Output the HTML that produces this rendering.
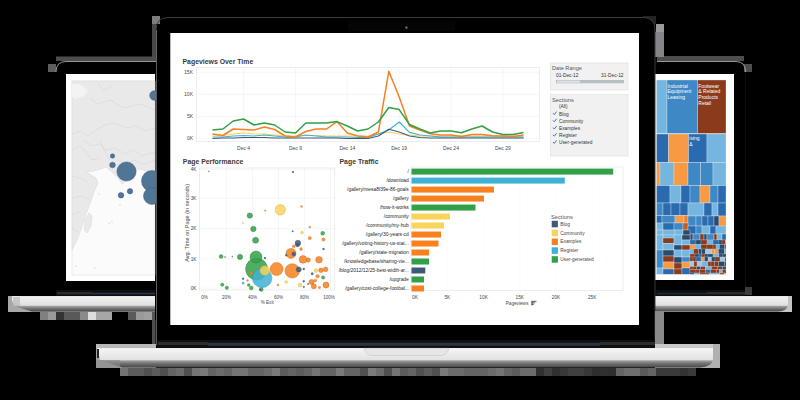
<!DOCTYPE html>
<html><head><meta charset="utf-8"><style>
html,body{margin:0;padding:0;background:#000;width:800px;height:400px;overflow:hidden}
svg{display:block;font-family:"Liberation Sans",sans-serif}
</style></head><body>
<svg width="800" height="400" viewBox="0 0 800 400">
<rect x="0" y="0" width="800" height="400" fill="#000"/>
<rect x="56" y="56.5" width="100" height="4.5" fill="#4d4d4d" />
<rect x="48" y="64" width="8" height="8" fill="#5e5e5e" />
<rect x="152" y="24" width="4" height="33" fill="#474747" />
<path d="M56,72 Q56,61.5 66,61.5 L156,61.5" fill="none" stroke="#bdbdbd" stroke-width="0.8"/>
<rect x="66" y="74" width="89" height="207" fill="#ffffff" />
<rect x="72" y="81" width="83" height="194" fill="#fbfbfb" stroke="#d8d8d8" stroke-width="0.5"/>
<path d="M72,81 L155,81 L155,171 L150,175 L144,170 L138,169 L132,175 L126,181 L122,184 L118,178 L112,172 L106,167 L101,169 L94,171 L86,172 L96,178 L98,183 L94,192 L90,204 L86,214 L82,226 L78,238 L72,250 Z" fill="#e9e9e9" stroke="#d0d0d0" stroke-width="0.4"/>
<path d="M89,213 L92,216 L91,226 L87,233 L84,230 L85,220 Z" fill="#e9e9e9" stroke="#d0d0d0" stroke-width="0.4"/>
<path d="M72,84 L80,84 L88,90 L84,96 L76,99 L72,97 Z" fill="#f3f3f3"/>
<path d="M72,134 L80,131 L88,136 L96,130 L105,125 L115,123 L126,128 L136,126 L146,131 L155,128" fill="none" stroke="#d0d0d0" stroke-width="0.45"/>
<path d="M84,140 L92,146 L100,144 L106,150 L116,148 L124,154 L134,150 L142,156 L155,152" fill="none" stroke="#d0d0d0" stroke-width="0.45"/>
<path d="M72,150 L80,146 L86,152 L92,160 L100,158" fill="none" stroke="#d0d0d0" stroke-width="0.45"/>
<path d="M100,140 L104,150 L110,160" fill="none" stroke="#d0d0d0" stroke-width="0.45"/>
<path d="M72,176 L80,178 L88,182" fill="none" stroke="#d0d0d0" stroke-width="0.45"/>
<path d="M72,198 L82,196 L90,200" fill="none" stroke="#d0d0d0" stroke-width="0.45"/>
<path d="M72,214 L80,212" fill="none" stroke="#d0d0d0" stroke-width="0.45"/>
<path d="M72,228 L78,232" fill="none" stroke="#d0d0d0" stroke-width="0.45"/>
<path d="M90,98 L98,104 L110,100 L124,108 L140,104 L155,110" fill="none" stroke="#d0d0d0" stroke-width="0.45"/>
<path d="M118,160 L126,164 L134,160 L144,164 L155,160" fill="none" stroke="#d0d0d0" stroke-width="0.45"/>
<path d="M98,84 L104,90 L112,86" fill="none" stroke="#d0d0d0" stroke-width="0.45"/>
<circle cx="154.5" cy="95.5" r="4.8" fill="#4f7597" stroke="#3d5f7e" stroke-width="0.5"/>
<circle cx="112.5" cy="156" r="2.2" fill="#4f7597" stroke="#3d5f7e" stroke-width="0.5"/>
<circle cx="112.5" cy="165" r="2.8" fill="#4f7597" stroke="#3d5f7e" stroke-width="0.5"/>
<circle cx="126.5" cy="171.5" r="9.6" fill="#4f7597" stroke="#3d5f7e" stroke-width="0.5"/>
<circle cx="121" cy="195.3" r="2.8" fill="#4f7597" stroke="#3d5f7e" stroke-width="0.5"/>
<circle cx="130" cy="191.2" r="2.7" fill="#4f7597" stroke="#3d5f7e" stroke-width="0.5"/>
<circle cx="152" cy="181" r="10.5" fill="#4f7597" stroke="#3d5f7e" stroke-width="0.5"/>
<circle cx="152" cy="196" r="8.5" fill="#4f7597" stroke="#3d5f7e" stroke-width="0.5"/>
<circle cx="99" cy="194" r="0.6" fill="#bbb"/>
<circle cx="109" cy="223" r="0.6" fill="#bbb"/>
<circle cx="112" cy="222" r="0.6" fill="#bbb"/>
<circle cx="95" cy="268" r="0.6" fill="#bbb"/>
<circle cx="76" cy="266" r="0.6" fill="#bbb"/>
<circle cx="120" cy="205" r="0.6" fill="#bbb"/>
<rect x="56" y="290" width="99" height="6" fill="#0e0f11" />
<rect x="57" y="292" width="35" height="2.5" fill="#3a3a3a" opacity="0.7"/>
<rect x="92" y="292.8" width="63" height="1.6" fill="#2a3546" />
<linearGradient id="lb" x1="0" y1="0" x2="0" y2="1"><stop offset="0" stop-color="#e4e4e4"/><stop offset="0.1" stop-color="#f0f0f0"/><stop offset="0.6" stop-color="#e0e0e0"/><stop offset="0.66" stop-color="#a0a0a0"/><stop offset="0.82" stop-color="#727272"/><stop offset="1" stop-color="#444"/></linearGradient>
<rect x="8" y="296" width="147" height="16" fill="#a8a8a8" />
<path d="M12,296 L155,296 L155,311.5 L32,311.5 L14,306 L12,300 Z" fill="url(#lb)"/>
<rect x="13" y="297" width="7" height="9" fill="#b0b0b0" opacity="0.6"/>
<rect x="40" y="312" width="8" height="8" fill="#808080" />
<rect x="48" y="312" width="8" height="8" fill="#9a9a9a" />
<rect x="56" y="312" width="8" height="8" fill="#333333" />
<rect x="64" y="312" width="16" height="8" fill="#595959" />
<rect x="80" y="312" width="8" height="8" fill="#8a8a8a" />
<rect x="88" y="312" width="8" height="8" fill="#dddddd" />
<rect x="96" y="312" width="16" height="8" fill="#a6a6a6" />
<rect x="128" y="312" width="8" height="8" fill="#5a5a5a" />
<rect x="136" y="312" width="8" height="8" fill="#9a9a9a" />
<rect x="144" y="312" width="8" height="8" fill="#a0a0a0" />
<rect x="152" y="312" width="3" height="8" fill="#555" />
<rect x="152" y="320" width="3.5" height="25" fill="#4e4e4e" />
<rect x="657" y="56" width="87" height="5" fill="#4d4d4d" />
<rect x="744" y="64" width="8" height="8" fill="#4e4e4e" />
<rect x="655" y="32" width="9" height="25" fill="#858589" />
<rect x="656" y="24" width="8" height="8" fill="#9a9a9a" />
<path d="M657,61.5 L736,61.5 Q745.5,61.5 745.5,72" fill="none" stroke="#bdbdbd" stroke-width="0.8"/>
<path d="M745.5,72 L745.5,288" fill="none" stroke="#141414" stroke-width="0.8"/>
<rect x="655" y="74" width="79" height="206" fill="#ffffff" />
<rect x="656.5" y="80" width="10.5" height="53.5" fill="#74b6e0" stroke="#dfe9f2" stroke-width="0.35"/>
<rect x="667" y="80" width="30.5" height="53.5" fill="#3d88c5" stroke="#dfe9f2" stroke-width="0.35"/>
<rect x="697.5" y="80" width="28.5" height="53.5" fill="#8c3a1c" stroke="#dfe9f2" stroke-width="0.35"/>
<rect x="656.5" y="134" width="12" height="28.5" fill="#2a6aae" stroke="#dfe9f2" stroke-width="0.35"/>
<rect x="668.5" y="134" width="20" height="28.5" fill="#f79a43" stroke="#dfe9f2" stroke-width="0.35"/>
<rect x="688.5" y="134" width="18.5" height="28.5" fill="#2a6aae" stroke="#dfe9f2" stroke-width="0.35"/>
<rect x="707" y="134" width="19" height="28.5" fill="#74b6e0" stroke="#dfe9f2" stroke-width="0.35"/>
<rect x="656.5" y="162.5" width="3.5" height="23" fill="#f79a43" stroke="#dfe9f2" stroke-width="0.35"/>
<rect x="660" y="162.5" width="14" height="23" fill="#74b6e0" stroke="#dfe9f2" stroke-width="0.35"/>
<rect x="674" y="162.5" width="14" height="23" fill="#f79a43" stroke="#dfe9f2" stroke-width="0.35"/>
<rect x="688" y="162.5" width="12.5" height="23" fill="#3d88c5" stroke="#dfe9f2" stroke-width="0.35"/>
<rect x="700.5" y="162.5" width="12.5" height="23" fill="#3d88c5" stroke="#dfe9f2" stroke-width="0.35"/>
<rect x="713" y="162.5" width="13" height="23" fill="#74b6e0" stroke="#dfe9f2" stroke-width="0.35"/>
<rect x="656.5" y="185.5" width="13.5" height="17.5" fill="#2a6aae" stroke="#dfe9f2" stroke-width="0.35"/>
<rect x="670" y="185.5" width="11" height="17.5" fill="#74b6e0" stroke="#dfe9f2" stroke-width="0.35"/>
<rect x="681" y="185.5" width="9" height="17.5" fill="#2a6aae" stroke="#dfe9f2" stroke-width="0.35"/>
<rect x="690" y="185.5" width="10" height="17.5" fill="#3d88c5" stroke="#dfe9f2" stroke-width="0.35"/>
<rect x="700" y="185.5" width="10" height="17.5" fill="#f79a43" stroke="#dfe9f2" stroke-width="0.35"/>
<rect x="710" y="185.5" width="8" height="17.5" fill="#3d88c5" stroke="#dfe9f2" stroke-width="0.35"/>
<rect x="718" y="185.5" width="8" height="17.5" fill="#2a6aae" stroke="#dfe9f2" stroke-width="0.35"/>
<rect x="656.5" y="203" width="6.5" height="12.5" fill="#3d88c5" stroke="#dfe9f2" stroke-width="0.35"/>
<rect x="663" y="203" width="8" height="12.5" fill="#2a6aae" stroke="#dfe9f2" stroke-width="0.35"/>
<rect x="671" y="203" width="9" height="12.5" fill="#2a6aae" stroke="#dfe9f2" stroke-width="0.35"/>
<rect x="680" y="203" width="8" height="12.5" fill="#2a6aae" stroke="#dfe9f2" stroke-width="0.35"/>
<rect x="688" y="203" width="16" height="13" fill="#74b6e0" stroke="#dfe9f2" stroke-width="0.35"/>
<rect x="704" y="203" width="8" height="13" fill="#2a6aae" stroke="#dfe9f2" stroke-width="0.35"/>
<rect x="712" y="203" width="6" height="13" fill="#74b6e0" stroke="#dfe9f2" stroke-width="0.35"/>
<rect x="718" y="203" width="8" height="13" fill="#2a6aae" stroke="#dfe9f2" stroke-width="0.35"/>
<rect x="656.5" y="215.5" width="5.5" height="7.5" fill="#2a6aae" stroke="#dfe9f2" stroke-width="0.35"/>
<rect x="662" y="215.5" width="13" height="7.5" fill="#3d88c5" stroke="#dfe9f2" stroke-width="0.35"/>
<rect x="675" y="215.5" width="9" height="7.5" fill="#f79a43" stroke="#dfe9f2" stroke-width="0.35"/>
<rect x="684" y="215.5" width="4" height="7.5" fill="#f57f1f" stroke="#dfe9f2" stroke-width="0.35"/>
<rect x="688" y="216" width="8" height="10" fill="#3d88c5" stroke="#dfe9f2" stroke-width="0.35"/>
<rect x="696" y="216" width="6" height="10" fill="#3d88c5" stroke="#dfe9f2" stroke-width="0.35"/>
<rect x="702" y="216" width="6" height="10" fill="#2a6aae" stroke="#dfe9f2" stroke-width="0.35"/>
<rect x="708" y="216" width="6" height="10" fill="#2a6aae" stroke="#dfe9f2" stroke-width="0.35"/>
<rect x="714" y="216" width="5" height="10" fill="#2c4a6b" stroke="#dfe9f2" stroke-width="0.35"/>
<rect x="719" y="216" width="7" height="10" fill="#f79a43" stroke="#dfe9f2" stroke-width="0.35"/>
<rect x="656.5" y="223" width="6.5" height="7" fill="#74b6e0" stroke="#dfe9f2" stroke-width="0.35"/>
<rect x="663" y="223" width="11" height="7" fill="#2a6aae" stroke="#dfe9f2" stroke-width="0.35"/>
<rect x="674" y="223" width="9" height="7" fill="#3d88c5" stroke="#dfe9f2" stroke-width="0.35"/>
<rect x="683" y="223" width="5" height="7" fill="#c85a1a" stroke="#dfe9f2" stroke-width="0.35"/>
<rect x="688" y="226" width="8" height="8" fill="#2a6aae" stroke="#dfe9f2" stroke-width="0.35"/>
<rect x="696" y="226" width="6" height="8" fill="#3d88c5" stroke="#dfe9f2" stroke-width="0.35"/>
<rect x="702" y="226" width="8" height="8" fill="#74b6e0" stroke="#dfe9f2" stroke-width="0.35"/>
<rect x="710" y="226" width="6" height="8" fill="#2a6aae" stroke="#dfe9f2" stroke-width="0.35"/>
<rect x="716" y="226" width="10" height="8" fill="#74b6e0" stroke="#dfe9f2" stroke-width="0.35"/>
<rect x="656.5" y="230" width="6.5" height="5" fill="#74b6e0" stroke="#dfe9f2" stroke-width="0.35"/>
<rect x="663" y="230" width="12" height="5" fill="#74b6e0" stroke="#dfe9f2" stroke-width="0.35"/>
<rect x="675" y="230" width="8" height="5" fill="#74b6e0" stroke="#dfe9f2" stroke-width="0.35"/>
<rect x="683" y="230" width="7" height="5" fill="#2c4a6b" stroke="#dfe9f2" stroke-width="0.35"/>
<rect x="690" y="234" width="3" height="6" fill="#2c4a6b" stroke="#dfe9f2" stroke-width="0.35"/>
<rect x="693" y="234" width="7" height="6" fill="#3d88c5" stroke="#dfe9f2" stroke-width="0.35"/>
<rect x="700" y="234" width="4" height="6" fill="#8c3a1c" stroke="#dfe9f2" stroke-width="0.35"/>
<rect x="704" y="234" width="3" height="6" fill="#2c4a6b" stroke="#dfe9f2" stroke-width="0.35"/>
<rect x="707" y="234" width="7" height="6" fill="#3d88c5" stroke="#dfe9f2" stroke-width="0.35"/>
<rect x="714" y="234" width="3" height="6" fill="#8c3a1c" stroke="#dfe9f2" stroke-width="0.35"/>
<rect x="717" y="234" width="5" height="6" fill="#74b6e0" stroke="#dfe9f2" stroke-width="0.35"/>
<rect x="722" y="234" width="4" height="6" fill="#2a6aae" stroke="#dfe9f2" stroke-width="0.35"/>
<rect x="656.5" y="235" width="6.5" height="15" fill="#74b6e0" stroke="#dfe9f2" stroke-width="0.35"/>
<rect x="656.5" y="250" width="6.5" height="18" fill="#3d88c5" stroke="#dfe9f2" stroke-width="0.35"/>
<rect x="656.5" y="268" width="6.5" height="6.3" fill="#74b6e0" stroke="#dfe9f2" stroke-width="0.35"/>
<rect x="663" y="235" width="11" height="3" fill="#74b6e0" stroke="#dfe9f2" stroke-width="0.35"/>
<rect x="663" y="238" width="11" height="5.4" fill="#8c3a1c" stroke="#dfe9f2" stroke-width="0.35"/>
<rect x="663" y="243.4" width="11" height="6.6" fill="#74b6e0" stroke="#dfe9f2" stroke-width="0.35"/>
<rect x="663" y="250" width="11" height="6" fill="#2c4a6b" stroke="#dfe9f2" stroke-width="0.35"/>
<rect x="663" y="256" width="11" height="6" fill="#8c3a1c" stroke="#dfe9f2" stroke-width="0.35"/>
<rect x="663" y="262" width="11" height="7" fill="#f79a43" stroke="#dfe9f2" stroke-width="0.35"/>
<rect x="663" y="269" width="11" height="5.3" fill="#2a6aae" stroke="#dfe9f2" stroke-width="0.35"/>
<rect x="674" y="235" width="8" height="10" fill="#74b6e0" stroke="#dfe9f2" stroke-width="0.35"/>
<rect x="674" y="245" width="8" height="5" fill="#2c4a6b" stroke="#dfe9f2" stroke-width="0.35"/>
<rect x="674" y="250" width="8" height="7" fill="#74b6e0" stroke="#dfe9f2" stroke-width="0.35"/>
<rect x="674" y="257" width="8" height="6" fill="#2c4a6b" stroke="#dfe9f2" stroke-width="0.35"/>
<rect x="674" y="263" width="8" height="6" fill="#8c3a1c" stroke="#dfe9f2" stroke-width="0.35"/>
<rect x="674" y="269" width="8" height="5.3" fill="#8c3a1c" stroke="#dfe9f2" stroke-width="0.35"/>
<rect x="682" y="235" width="8" height="5" fill="#2c4a6b" stroke="#dfe9f2" stroke-width="0.35"/>
<rect x="682" y="240" width="8" height="5" fill="#74b6e0" stroke="#dfe9f2" stroke-width="0.35"/>
<rect x="682" y="245" width="8" height="5" fill="#8c3a1c" stroke="#dfe9f2" stroke-width="0.35"/>
<rect x="682" y="250" width="8" height="7" fill="#74b6e0" stroke="#dfe9f2" stroke-width="0.35"/>
<rect x="682" y="257" width="8" height="5" fill="#3d88c5" stroke="#dfe9f2" stroke-width="0.35"/>
<rect x="682" y="262" width="8" height="6" fill="#f79a43" stroke="#dfe9f2" stroke-width="0.35"/>
<rect x="682" y="268" width="8" height="6.3" fill="#2a6aae" stroke="#dfe9f2" stroke-width="0.35"/>
<rect x="690.00" y="240.00" width="6.00" height="4.50" fill="#2a6aae" stroke="#c9d6e0" stroke-width="0.2"/>
<rect x="696.00" y="240.00" width="5.00" height="4.50" fill="#2c4a6b" stroke="#c9d6e0" stroke-width="0.2"/>
<rect x="701.00" y="240.00" width="6.00" height="4.50" fill="#8c3a1c" stroke="#c9d6e0" stroke-width="0.2"/>
<rect x="707.00" y="240.00" width="6.00" height="4.50" fill="#74b6e0" stroke="#c9d6e0" stroke-width="0.2"/>
<rect x="713.00" y="240.00" width="6.00" height="4.50" fill="#2a6aae" stroke="#c9d6e0" stroke-width="0.2"/>
<rect x="719.00" y="240.00" width="3.00" height="4.50" fill="#2c4a6b" stroke="#c9d6e0" stroke-width="0.2"/>
<rect x="722.00" y="240.00" width="3.50" height="4.50" fill="#8c3a1c" stroke="#c9d6e0" stroke-width="0.2"/>
<rect x="725.50" y="240.00" width="0.50" height="4.50" fill="#74b6e0" stroke="#c9d6e0" stroke-width="0.2"/>
<rect x="690.00" y="244.50" width="5.00" height="4.50" fill="#f79a43" stroke="#c9d6e0" stroke-width="0.2"/>
<rect x="695.00" y="244.50" width="6.00" height="4.50" fill="#74b6e0" stroke="#c9d6e0" stroke-width="0.2"/>
<rect x="701.00" y="244.50" width="6.00" height="4.50" fill="#8c3a1c" stroke="#c9d6e0" stroke-width="0.2"/>
<rect x="707.00" y="244.50" width="6.00" height="4.50" fill="#8c3a1c" stroke="#c9d6e0" stroke-width="0.2"/>
<rect x="713.00" y="244.50" width="3.00" height="4.50" fill="#8c3a1c" stroke="#c9d6e0" stroke-width="0.2"/>
<rect x="716.00" y="244.50" width="3.50" height="4.50" fill="#74b6e0" stroke="#c9d6e0" stroke-width="0.2"/>
<rect x="719.50" y="244.50" width="5.00" height="4.50" fill="#2c4a6b" stroke="#c9d6e0" stroke-width="0.2"/>
<rect x="724.50" y="244.50" width="1.50" height="4.50" fill="#2a6aae" stroke="#c9d6e0" stroke-width="0.2"/>
<rect x="690.00" y="249.00" width="3.50" height="5.00" fill="#74b6e0" stroke="#c9d6e0" stroke-width="0.2"/>
<rect x="693.50" y="249.00" width="5.00" height="5.00" fill="#8c3a1c" stroke="#c9d6e0" stroke-width="0.2"/>
<rect x="698.50" y="249.00" width="3.00" height="5.00" fill="#2c4a6b" stroke="#c9d6e0" stroke-width="0.2"/>
<rect x="701.50" y="249.00" width="4.00" height="5.00" fill="#2c4a6b" stroke="#c9d6e0" stroke-width="0.2"/>
<rect x="705.50" y="249.00" width="6.00" height="5.00" fill="#a9c7dc" stroke="#c9d6e0" stroke-width="0.2"/>
<rect x="711.50" y="249.00" width="3.00" height="5.00" fill="#f79a43" stroke="#c9d6e0" stroke-width="0.2"/>
<rect x="714.50" y="249.00" width="4.00" height="5.00" fill="#f79a43" stroke="#c9d6e0" stroke-width="0.2"/>
<rect x="718.50" y="249.00" width="6.00" height="5.00" fill="#2c4a6b" stroke="#c9d6e0" stroke-width="0.2"/>
<rect x="724.50" y="249.00" width="1.50" height="5.00" fill="#74b6e0" stroke="#c9d6e0" stroke-width="0.2"/>
<rect x="690.00" y="254.00" width="5.00" height="3.00" fill="#8c3a1c" stroke="#c9d6e0" stroke-width="0.2"/>
<rect x="695.00" y="254.00" width="4.00" height="3.00" fill="#2c4a6b" stroke="#c9d6e0" stroke-width="0.2"/>
<rect x="699.00" y="254.00" width="3.00" height="3.00" fill="#2a6aae" stroke="#c9d6e0" stroke-width="0.2"/>
<rect x="702.00" y="254.00" width="3.00" height="3.00" fill="#8c3a1c" stroke="#c9d6e0" stroke-width="0.2"/>
<rect x="705.00" y="254.00" width="3.00" height="3.00" fill="#2c4a6b" stroke="#c9d6e0" stroke-width="0.2"/>
<rect x="708.00" y="254.00" width="5.00" height="3.00" fill="#2c4a6b" stroke="#c9d6e0" stroke-width="0.2"/>
<rect x="713.00" y="254.00" width="6.00" height="3.00" fill="#74b6e0" stroke="#c9d6e0" stroke-width="0.2"/>
<rect x="719.00" y="254.00" width="4.00" height="3.00" fill="#2c4a6b" stroke="#c9d6e0" stroke-width="0.2"/>
<rect x="723.00" y="254.00" width="3.00" height="3.00" fill="#2c4a6b" stroke="#c9d6e0" stroke-width="0.2"/>
<rect x="690.00" y="257.00" width="3.00" height="4.50" fill="#8c3a1c" stroke="#c9d6e0" stroke-width="0.2"/>
<rect x="693.00" y="257.00" width="3.00" height="4.50" fill="#8c3a1c" stroke="#c9d6e0" stroke-width="0.2"/>
<rect x="696.00" y="257.00" width="5.00" height="4.50" fill="#2a6aae" stroke="#c9d6e0" stroke-width="0.2"/>
<rect x="701.00" y="257.00" width="3.50" height="4.50" fill="#f79a43" stroke="#c9d6e0" stroke-width="0.2"/>
<rect x="704.50" y="257.00" width="3.50" height="4.50" fill="#2c4a6b" stroke="#c9d6e0" stroke-width="0.2"/>
<rect x="708.00" y="257.00" width="3.50" height="4.50" fill="#a9c7dc" stroke="#c9d6e0" stroke-width="0.2"/>
<rect x="711.50" y="257.00" width="3.50" height="4.50" fill="#2c4a6b" stroke="#c9d6e0" stroke-width="0.2"/>
<rect x="715.00" y="257.00" width="5.00" height="4.50" fill="#8c3a1c" stroke="#c9d6e0" stroke-width="0.2"/>
<rect x="720.00" y="257.00" width="5.00" height="4.50" fill="#a9c7dc" stroke="#c9d6e0" stroke-width="0.2"/>
<rect x="725.00" y="257.00" width="1.00" height="4.50" fill="#2c4a6b" stroke="#c9d6e0" stroke-width="0.2"/>
<rect x="690.00" y="261.50" width="4.00" height="5.00" fill="#a9c7dc" stroke="#c9d6e0" stroke-width="0.2"/>
<rect x="694.00" y="261.50" width="3.00" height="5.00" fill="#8c3a1c" stroke="#c9d6e0" stroke-width="0.2"/>
<rect x="697.00" y="261.50" width="5.00" height="5.00" fill="#a9c7dc" stroke="#c9d6e0" stroke-width="0.2"/>
<rect x="702.00" y="261.50" width="6.00" height="5.00" fill="#74b6e0" stroke="#c9d6e0" stroke-width="0.2"/>
<rect x="708.00" y="261.50" width="3.00" height="5.00" fill="#8c3a1c" stroke="#c9d6e0" stroke-width="0.2"/>
<rect x="711.00" y="261.50" width="3.50" height="5.00" fill="#8c3a1c" stroke="#c9d6e0" stroke-width="0.2"/>
<rect x="714.50" y="261.50" width="4.00" height="5.00" fill="#8c3a1c" stroke="#c9d6e0" stroke-width="0.2"/>
<rect x="718.50" y="261.50" width="6.00" height="5.00" fill="#2c4a6b" stroke="#c9d6e0" stroke-width="0.2"/>
<rect x="724.50" y="261.50" width="1.50" height="5.00" fill="#2c4a6b" stroke="#c9d6e0" stroke-width="0.2"/>
<rect x="690.00" y="266.50" width="3.00" height="3.00" fill="#8c3a1c" stroke="#c9d6e0" stroke-width="0.2"/>
<rect x="693.00" y="266.50" width="3.50" height="3.00" fill="#8c3a1c" stroke="#c9d6e0" stroke-width="0.2"/>
<rect x="696.50" y="266.50" width="4.00" height="3.00" fill="#2c4a6b" stroke="#c9d6e0" stroke-width="0.2"/>
<rect x="700.50" y="266.50" width="5.00" height="3.00" fill="#8c3a1c" stroke="#c9d6e0" stroke-width="0.2"/>
<rect x="705.50" y="266.50" width="6.00" height="3.00" fill="#74b6e0" stroke="#c9d6e0" stroke-width="0.2"/>
<rect x="711.50" y="266.50" width="6.00" height="3.00" fill="#8c3a1c" stroke="#c9d6e0" stroke-width="0.2"/>
<rect x="717.50" y="266.50" width="5.00" height="3.00" fill="#8c3a1c" stroke="#c9d6e0" stroke-width="0.2"/>
<rect x="722.50" y="266.50" width="3.50" height="3.00" fill="#2c4a6b" stroke="#c9d6e0" stroke-width="0.2"/>
<rect x="690.00" y="269.50" width="6.00" height="3.50" fill="#8c3a1c" stroke="#c9d6e0" stroke-width="0.2"/>
<rect x="696.00" y="269.50" width="3.50" height="3.50" fill="#8c3a1c" stroke="#c9d6e0" stroke-width="0.2"/>
<rect x="699.50" y="269.50" width="6.00" height="3.50" fill="#8c3a1c" stroke="#c9d6e0" stroke-width="0.2"/>
<rect x="705.50" y="269.50" width="5.00" height="3.50" fill="#2a6aae" stroke="#c9d6e0" stroke-width="0.2"/>
<rect x="710.50" y="269.50" width="6.00" height="3.50" fill="#8c3a1c" stroke="#c9d6e0" stroke-width="0.2"/>
<rect x="716.50" y="269.50" width="3.00" height="3.50" fill="#8c3a1c" stroke="#c9d6e0" stroke-width="0.2"/>
<rect x="719.50" y="269.50" width="3.00" height="3.50" fill="#74b6e0" stroke="#c9d6e0" stroke-width="0.2"/>
<rect x="722.50" y="269.50" width="3.50" height="3.50" fill="#8c3a1c" stroke="#c9d6e0" stroke-width="0.2"/>
<rect x="690.00" y="273.00" width="4.00" height="1.30" fill="#2c4a6b" stroke="#c9d6e0" stroke-width="0.2"/>
<rect x="694.00" y="273.00" width="6.00" height="1.30" fill="#74b6e0" stroke="#c9d6e0" stroke-width="0.2"/>
<rect x="700.00" y="273.00" width="6.00" height="1.30" fill="#8c3a1c" stroke="#c9d6e0" stroke-width="0.2"/>
<rect x="706.00" y="273.00" width="3.00" height="1.30" fill="#8c3a1c" stroke="#c9d6e0" stroke-width="0.2"/>
<rect x="709.00" y="273.00" width="5.00" height="1.30" fill="#74b6e0" stroke="#c9d6e0" stroke-width="0.2"/>
<rect x="714.00" y="273.00" width="6.00" height="1.30" fill="#74b6e0" stroke="#c9d6e0" stroke-width="0.2"/>
<rect x="720.00" y="273.00" width="4.00" height="1.30" fill="#8c3a1c" stroke="#c9d6e0" stroke-width="0.2"/>
<rect x="724.00" y="273.00" width="2.00" height="1.30" fill="#f79a43" stroke="#c9d6e0" stroke-width="0.2"/>
<text x="667.5" y="87.6" font-size="5.0" fill="#ffffff" text-anchor="start" font-weight="normal" >Industrial</text>
<text x="667.5" y="93.4" font-size="5.0" fill="#ffffff" text-anchor="start" font-weight="normal" >Equipment</text>
<text x="667.5" y="99.2" font-size="5.0" fill="#ffffff" text-anchor="start" font-weight="normal" >Leasing</text>
<text x="698.3" y="87.6" font-size="5.0" fill="#ffffff" text-anchor="start" font-weight="normal" >Footwear</text>
<text x="698.3" y="93.4" font-size="5.0" fill="#ffffff" text-anchor="start" font-weight="normal" >&amp; Related</text>
<text x="698.3" y="99.2" font-size="5.0" fill="#ffffff" text-anchor="start" font-weight="normal" >Products</text>
<text x="698.3" y="105" font-size="5.0" fill="#ffffff" text-anchor="start" font-weight="normal" >Retail</text>
<text x="689.3" y="139.5" font-size="5.0" fill="#ffffff" text-anchor="start" font-weight="normal" >ising</text>
<text x="689.3" y="145.5" font-size="5.0" fill="#ffffff" text-anchor="start" font-weight="normal" >&amp;</text>
<rect x="656" y="290" width="89" height="6" fill="#0e0f11" />
<rect x="657" y="292.8" width="50" height="1.6" fill="#1f2a38" />
<rect x="707" y="292" width="38" height="2.5" fill="#3a3a3a" opacity="0.7"/>
<rect x="745" y="287" width="7" height="8" fill="#3c3c3c" />
<linearGradient id="rb" x1="0" y1="0" x2="0" y2="1"><stop offset="0" stop-color="#e4e4e4"/><stop offset="0.1" stop-color="#f0f0f0"/><stop offset="0.6" stop-color="#e0e0e0"/><stop offset="0.66" stop-color="#a0a0a0"/><stop offset="0.82" stop-color="#727272"/><stop offset="1" stop-color="#444"/></linearGradient>
<rect x="655" y="296" width="137" height="16" fill="#c4c4c4" />
<path d="M655,296 L788,296 L788,305 Q787,311 778,311.5 L655,311.5 Z" fill="url(#rb)"/>
<rect x="643" y="16" width="13" height="8" fill="#242424" />
<path d="M156,345 L156,30 Q156,17.5 168,17.5 L643,17.5 Q655,17.5 655,30 L655,345 Z" fill="#000"/>
<rect x="152" y="16" width="8" height="8" fill="#7d7d7d" />
<path d="M156,57 L156,30 Q156,17.5 168,17.5 L643,17.5 Q655,17.5 655,30 L655,345" fill="none" stroke="#3c3c3c" stroke-width="1"/>
<path d="M156.5,345 L156.5,30" fill="none" stroke="#9a9a9a" stroke-width="0.6"/>
<rect x="655" y="311" width="9" height="34" fill="#8a8a8a" />
<rect x="348" y="21" width="107" height="10" fill="#050505" />
<circle cx="406.4" cy="27.6" r="1.6" fill="#2a3a46"/><circle cx="406.4" cy="27.6" r="0.8" fill="#6a8a9c"/>
<rect x="170" y="33" width="469" height="292" fill="#ffffff" />
<rect x="170" y="33" width="0.7" height="292" fill="#9a9a9a" />
<text x="182.5" y="64.3" font-size="6.9" fill="#3a3a3a" text-anchor="start" font-weight="bold" >Pageviews Over Time</text>
<rect x="196.5" y="67.5" width="343" height="74" fill="none" stroke="#e2e2e2" stroke-width="0.6"/>
<line x1="196.5" x2="539.5" y1="138.5" y2="138.5" stroke="#ececec" stroke-width="0.5"/>
<text x="193" y="140.2" font-size="5.0" fill="#484848" text-anchor="end" font-weight="normal" >0K</text>
<line x1="196.5" x2="539.5" y1="116.4" y2="116.4" stroke="#ececec" stroke-width="0.5"/>
<text x="193" y="118.10000000000001" font-size="5.0" fill="#484848" text-anchor="end" font-weight="normal" >5K</text>
<line x1="196.5" x2="539.5" y1="94.4" y2="94.4" stroke="#ececec" stroke-width="0.5"/>
<text x="193" y="96.10000000000001" font-size="5.0" fill="#484848" text-anchor="end" font-weight="normal" >10K</text>
<line x1="196.5" x2="539.5" y1="72.3" y2="72.3" stroke="#ececec" stroke-width="0.5"/>
<text x="193" y="74.0" font-size="5.0" fill="#484848" text-anchor="end" font-weight="normal" >15K</text>
<line x1="243.6" x2="243.6" y1="68" y2="141.5" stroke="#ececec" stroke-width="0.5"/>
<text x="243.6" y="149.8" font-size="5.0" fill="#484848" text-anchor="middle" font-weight="normal" >Dec 4</text>
<line x1="295.4" x2="295.4" y1="68" y2="141.5" stroke="#ececec" stroke-width="0.5"/>
<text x="295.45" y="149.8" font-size="5.0" fill="#484848" text-anchor="middle" font-weight="normal" >Dec 9</text>
<line x1="347.3" x2="347.3" y1="68" y2="141.5" stroke="#ececec" stroke-width="0.5"/>
<text x="347.3" y="149.8" font-size="5.0" fill="#484848" text-anchor="middle" font-weight="normal" >Dec 14</text>
<line x1="399.1" x2="399.1" y1="68" y2="141.5" stroke="#ececec" stroke-width="0.5"/>
<text x="399.15" y="149.8" font-size="5.0" fill="#484848" text-anchor="middle" font-weight="normal" >Dec 19</text>
<line x1="451.0" x2="451.0" y1="68" y2="141.5" stroke="#ececec" stroke-width="0.5"/>
<text x="451.0" y="149.8" font-size="5.0" fill="#484848" text-anchor="middle" font-weight="normal" >Dec 24</text>
<line x1="502.9" x2="502.9" y1="68" y2="141.5" stroke="#ececec" stroke-width="0.5"/>
<text x="502.85" y="149.8" font-size="5.0" fill="#484848" text-anchor="middle" font-weight="normal" >Dec 29</text>
<polyline points="212.5,135 222.9,135.5 233.2,134 243.6,133 254.0,134 264.4,134 274.7,135 285.1,136 295.5,136 305.8,135.5 316.2,135.5 326.6,136 336.9,136 347.3,136 357.7,136 368.0,136 378.4,134 388.8,132 399.2,134 409.5,135 419.9,136 430.3,136 440.6,136 451.0,136 461.4,136 471.8,136 482.1,136 492.5,136 502.9,136 513.2,136 523.6,136" fill="none" stroke="#f9d35a" stroke-width="1.1" stroke-linejoin="round"/>
<polyline points="212.5,137 222.9,137 233.2,136 243.6,135.5 254.0,136 264.4,135 274.7,136 285.1,137 295.5,137 305.8,135 316.2,136 326.6,137 336.9,137 347.3,137 357.7,137.5 368.0,137.5 378.4,134 388.8,130 399.2,122 409.5,132.4 419.9,135 430.3,136 440.6,137 451.0,137 461.4,137 471.8,137 482.1,137 492.5,137 502.9,137 513.2,137 523.6,137" fill="none" stroke="#3fb1d4" stroke-width="1.2" stroke-linejoin="round"/>
<polyline points="212.5,138.5 222.9,138 233.2,138 243.6,137.5 254.0,137.5 264.4,137.5 274.7,138 285.1,138 295.5,138 305.8,138 316.2,138 326.6,138 336.9,138 347.3,138.5 357.7,138.5 368.0,138.5 378.4,136 388.8,129.3 399.2,132 409.5,136 419.9,137.5 430.3,138 440.6,138 451.0,138 461.4,138 471.8,138 482.1,138 492.5,138 502.9,138 513.2,138 523.6,138" fill="none" stroke="#3d5a7a" stroke-width="1.1" stroke-linejoin="round"/>
<polyline points="212.5,134 222.9,135.5 233.2,129 243.6,129.5 254.0,130 264.4,127 274.7,129.5 285.1,136 295.5,137 305.8,131.5 316.2,129 326.6,129 336.9,121.6 347.3,133 357.7,136 368.0,137 378.4,132 388.8,71.3 399.2,97 409.5,126 419.9,130 430.3,133.7 440.6,135 451.0,135 461.4,136.4 471.8,134.5 482.1,134.5 492.5,135.8 502.9,136 513.2,136.5 523.6,135" fill="none" stroke="#f7801f" stroke-width="1.5" stroke-linejoin="round"/>
<polyline points="212.5,130 222.9,129 233.2,121 243.6,119 254.0,125 264.4,123 274.7,125 285.1,132 295.5,133 305.8,123 316.2,123 326.6,123 336.9,121.6 347.3,126 357.7,131 368.0,129 378.4,122 388.8,107.5 399.2,109.6 409.5,124.5 419.9,129 430.3,133 440.6,131 451.0,131 461.4,132.7 471.8,129 482.1,126 492.5,132 502.9,134.5 513.2,134.5 523.6,132.4" fill="none" stroke="#31a047" stroke-width="1.5" stroke-linejoin="round"/>
<rect x="550.5" y="63" width="77.5" height="27" fill="#f1f1f1" stroke="#dcdcdc" stroke-width="0.6"/>
<text x="552" y="69.8" font-size="5.6" fill="#555" text-anchor="start" font-weight="normal" >Date Range</text>
<text x="556" y="76.8" font-size="4.8" fill="#333" text-anchor="start" font-weight="normal" >01-Dec-12</text>
<text x="623.5" y="76.8" font-size="4.8" fill="#333" text-anchor="end" font-weight="normal" >31-Dec-12</text>
<rect x="556" y="80" width="68" height="3.3" fill="#b7bfc3" />
<rect x="557" y="80.6" width="23" height="2.1" fill="#dfe3e5" />
<rect x="550.5" y="94.5" width="77.5" height="61.5" fill="#f1f1f1" stroke="#dcdcdc" stroke-width="0.6"/>
<text x="552" y="101.8" font-size="5.7" fill="#555" text-anchor="start" font-weight="normal" >Sections</text>
<text x="559" y="108.3" font-size="4.8" fill="#333" text-anchor="start" font-weight="normal" >(All)</text>
<path d="M553,113.2 L554.3,114.60000000000001 L556.6,111.60000000000001" fill="none" stroke="#3b79b6" stroke-width="1.0"/>
<text x="559" y="115.5" font-size="4.8" fill="#333" text-anchor="start" font-weight="normal" >Blog</text>
<path d="M553,120.4 L554.3,121.80000000000001 L556.6,118.80000000000001" fill="none" stroke="#3b79b6" stroke-width="1.0"/>
<text x="559" y="122.7" font-size="4.8" fill="#333" text-anchor="start" font-weight="normal" >Community</text>
<path d="M553,127.6 L554.3,129.0 L556.6,126.0" fill="none" stroke="#3b79b6" stroke-width="1.0"/>
<text x="559" y="129.9" font-size="4.8" fill="#333" text-anchor="start" font-weight="normal" >Examples</text>
<path d="M553,134.8 L554.3,136.20000000000002 L556.6,133.20000000000002" fill="none" stroke="#3b79b6" stroke-width="1.0"/>
<text x="559" y="137.10000000000002" font-size="4.8" fill="#333" text-anchor="start" font-weight="normal" >Register</text>
<path d="M553,142.0 L554.3,143.4 L556.6,140.4" fill="none" stroke="#3b79b6" stroke-width="1.0"/>
<text x="559" y="144.3" font-size="4.8" fill="#333" text-anchor="start" font-weight="normal" >User-generated</text>
<text x="182.8" y="164" font-size="6.9" fill="#3a3a3a" text-anchor="start" font-weight="bold" >Page Performance</text>
<rect x="199.5" y="168" width="135.3" height="122" fill="none" stroke="#e2e2e2" stroke-width="0.6"/>
<line x1="199.5" x2="334.8" y1="288" y2="288" stroke="#ededed" stroke-width="0.5"/>
<text x="196.5" y="289.7" font-size="4.8" fill="#484848" text-anchor="end" font-weight="normal" >0K</text>
<line x1="199.5" x2="334.8" y1="258.8" y2="258.8" stroke="#ededed" stroke-width="0.5"/>
<text x="196.5" y="260.5" font-size="4.8" fill="#484848" text-anchor="end" font-weight="normal" >1K</text>
<line x1="199.5" x2="334.8" y1="228.7" y2="228.7" stroke="#ededed" stroke-width="0.5"/>
<text x="196.5" y="230.39999999999998" font-size="4.8" fill="#484848" text-anchor="end" font-weight="normal" >2K</text>
<line x1="199.5" x2="334.8" y1="198.2" y2="198.2" stroke="#ededed" stroke-width="0.5"/>
<text x="196.5" y="199.89999999999998" font-size="4.8" fill="#484848" text-anchor="end" font-weight="normal" >3K</text>
<line x1="199.5" x2="334.8" y1="169.6" y2="169.6" stroke="#ededed" stroke-width="0.5"/>
<text x="196.5" y="171.29999999999998" font-size="4.8" fill="#484848" text-anchor="end" font-weight="normal" >4K</text>
<text x="204.5" y="298.8" font-size="4.5" fill="#484848" text-anchor="middle" font-weight="normal" >0%</text>
<line x1="226.5" x2="226.5" y1="168" y2="290" stroke="#ededed" stroke-width="0.5"/>
<text x="226.5" y="298.8" font-size="4.5" fill="#484848" text-anchor="middle" font-weight="normal" >20%</text>
<line x1="252.5" x2="252.5" y1="168" y2="290" stroke="#ededed" stroke-width="0.5"/>
<text x="252.5" y="298.8" font-size="4.5" fill="#484848" text-anchor="middle" font-weight="normal" >40%</text>
<line x1="278.5" x2="278.5" y1="168" y2="290" stroke="#ededed" stroke-width="0.5"/>
<text x="278.5" y="298.8" font-size="4.5" fill="#484848" text-anchor="middle" font-weight="normal" >60%</text>
<line x1="304.5" x2="304.5" y1="168" y2="290" stroke="#ededed" stroke-width="0.5"/>
<text x="304.5" y="298.8" font-size="4.5" fill="#484848" text-anchor="middle" font-weight="normal" >80%</text>
<line x1="330.5" x2="330.5" y1="168" y2="290" stroke="#ededed" stroke-width="0.5"/>
<text x="329" y="298.8" font-size="4.5" fill="#484848" text-anchor="middle" font-weight="normal" >100%</text>
<text x="267.2" y="304.2" font-size="4.6" fill="#484848" text-anchor="middle" font-weight="normal" >% Exit</text>
<text x="0" y="0" font-size="5.5" fill="#484848" text-anchor="middle" transform="translate(189.3,222.8) rotate(-90)">Avg. Time on Page (in seconds)</text>
<circle cx="208.8" cy="171.4" r="0.7" fill="#999" fill-opacity="0.85" stroke="#7d7d7d" stroke-width="0.25"/>
<circle cx="293" cy="172" r="0.9" fill="#555" fill-opacity="0.85" stroke="#454545" stroke-width="0.25"/>
<circle cx="280.3" cy="209.8" r="5.2" fill="#f9d35a" fill-opacity="0.85" stroke="#ccad49" stroke-width="0.45"/>
<circle cx="249.8" cy="215.6" r="2.7" fill="#31a047" fill-opacity="0.85" stroke="#28833a" stroke-width="0.45"/>
<circle cx="253.4" cy="229" r="2.7" fill="#31a047" fill-opacity="0.85" stroke="#28833a" stroke-width="0.45"/>
<circle cx="255.6" cy="240.3" r="3" fill="#31a047" fill-opacity="0.85" stroke="#28833a" stroke-width="0.45"/>
<circle cx="240" cy="256.9" r="2.6" fill="#31a047" fill-opacity="0.85" stroke="#28833a" stroke-width="0.45"/>
<circle cx="221.1" cy="256.6" r="2" fill="#31a047" fill-opacity="0.85" stroke="#28833a" stroke-width="0.25"/>
<circle cx="222.3" cy="284.7" r="1.8" fill="#31a047" fill-opacity="0.85" stroke="#28833a" stroke-width="0.25"/>
<circle cx="226.8" cy="287.8" r="1.8" fill="#31a047" fill-opacity="0.85" stroke="#28833a" stroke-width="0.25"/>
<circle cx="251.25" cy="288.1" r="2" fill="#31a047" fill-opacity="0.85" stroke="#28833a" stroke-width="0.25"/>
<circle cx="248.75" cy="285" r="1.5" fill="#31a047" fill-opacity="0.85" stroke="#28833a" stroke-width="0.25"/>
<circle cx="261.25" cy="289.4" r="2" fill="#31a047" fill-opacity="0.85" stroke="#28833a" stroke-width="0.25"/>
<circle cx="256.6" cy="269" r="11" fill="#31a047" fill-opacity="0.85" stroke="#28833a" stroke-width="0.45"/>
<circle cx="256" cy="257" r="6" fill="#31a047" fill-opacity="0.85" stroke="#28833a" stroke-width="0.45"/>
<circle cx="262.2" cy="278" r="9.7" fill="#3fb1d4" fill-opacity="0.85" stroke="#3391ad" stroke-width="0.45"/>
<circle cx="264.7" cy="270.6" r="4.8" fill="#f9d35a" fill-opacity="0.85" stroke="#ccad49" stroke-width="0.45"/>
<circle cx="251.25" cy="273" r="1.5" fill="#f7801f" fill-opacity="0.85" stroke="#ca6819" stroke-width="0.25"/>
<circle cx="276.6" cy="269" r="6.5" fill="#f7801f" fill-opacity="0.85" stroke="#ca6819" stroke-width="0.45"/>
<circle cx="292.2" cy="270.9" r="7.2" fill="#f7801f" fill-opacity="0.85" stroke="#ca6819" stroke-width="0.45"/>
<circle cx="298.75" cy="269.4" r="2.5" fill="#3d5a7a" fill-opacity="0.85" stroke="#324964" stroke-width="0.45"/>
<circle cx="291" cy="253.4" r="5" fill="#f7801f" fill-opacity="0.85" stroke="#ca6819" stroke-width="0.45"/>
<circle cx="293.75" cy="254" r="2" fill="#3d5a7a" fill-opacity="0.85" stroke="#324964" stroke-width="0.25"/>
<circle cx="286.25" cy="255.25" r="1" fill="#3d5a7a" fill-opacity="0.85" stroke="#324964" stroke-width="0.25"/>
<circle cx="297.9" cy="243" r="2.8" fill="#3d5a7a" fill-opacity="0.85" stroke="#324964" stroke-width="0.45"/>
<circle cx="303" cy="259.4" r="3.8" fill="#f7801f" fill-opacity="0.85" stroke="#ca6819" stroke-width="0.45"/>
<circle cx="308.2" cy="260" r="2.2" fill="#f7801f" fill-opacity="0.85" stroke="#ca6819" stroke-width="0.45"/>
<circle cx="319" cy="259.8" r="3.3" fill="#f7801f" fill-opacity="0.85" stroke="#ca6819" stroke-width="0.45"/>
<circle cx="265" cy="258.1" r="1" fill="#3d5a7a" fill-opacity="0.85" stroke="#324964" stroke-width="0.25"/>
<circle cx="322.7" cy="233.2" r="2" fill="#31a047" fill-opacity="0.85" stroke="#28833a" stroke-width="0.25"/>
<circle cx="323.5" cy="239.5" r="1.7" fill="#f7801f" fill-opacity="0.85" stroke="#ca6819" stroke-width="0.25"/>
<circle cx="309.8" cy="238.1" r="1.7" fill="#f7801f" fill-opacity="0.85" stroke="#ca6819" stroke-width="0.25"/>
<circle cx="293.75" cy="246.25" r="1.5" fill="#f7801f" fill-opacity="0.85" stroke="#ca6819" stroke-width="0.25"/>
<circle cx="297.5" cy="245" r="2" fill="#3d5a7a" fill-opacity="0.85" stroke="#324964" stroke-width="0.25"/>
<circle cx="323.5" cy="249.1" r="1" fill="#3d5a7a" fill-opacity="0.85" stroke="#324964" stroke-width="0.25"/>
<circle cx="301" cy="249" r="1.5" fill="#f7801f" fill-opacity="0.85" stroke="#ca6819" stroke-width="0.25"/>
<circle cx="302" cy="232.6" r="1.5" fill="#f9d35a" fill-opacity="0.85" stroke="#ccad49" stroke-width="0.25"/>
<circle cx="292.7" cy="231.3" r="0.8" fill="#3d5a7a" fill-opacity="0.85" stroke="#324964" stroke-width="0.25"/>
<circle cx="309.8" cy="227.1" r="1" fill="#f7801f" fill-opacity="0.85" stroke="#ca6819" stroke-width="0.25"/>
<circle cx="301.5" cy="206.5" r="1" fill="#f7801f" fill-opacity="0.85" stroke="#ca6819" stroke-width="0.25"/>
<circle cx="265.2" cy="210.6" r="0.8" fill="#f7801f" fill-opacity="0.85" stroke="#ca6819" stroke-width="0.25"/>
<circle cx="243.2" cy="223" r="0.8" fill="#f9d35a" fill-opacity="0.85" stroke="#ccad49" stroke-width="0.25"/>
<circle cx="303.75" cy="269" r="1" fill="#3d5a7a" fill-opacity="0.85" stroke="#324964" stroke-width="0.25"/>
<circle cx="316" cy="270.6" r="2" fill="#f9d35a" fill-opacity="0.85" stroke="#ccad49" stroke-width="0.25"/>
<circle cx="321" cy="270.3" r="2.3" fill="#f7801f" fill-opacity="0.85" stroke="#ca6819" stroke-width="0.45"/>
<circle cx="325.6" cy="269.4" r="2.3" fill="#f7801f" fill-opacity="0.85" stroke="#ca6819" stroke-width="0.45"/>
<circle cx="312.2" cy="273.8" r="1.2" fill="#3d5a7a" fill-opacity="0.85" stroke="#324964" stroke-width="0.25"/>
<circle cx="317.5" cy="276.3" r="1.8" fill="#f7801f" fill-opacity="0.85" stroke="#ca6819" stroke-width="0.25"/>
<circle cx="323.1" cy="277.5" r="1.7" fill="#31a047" fill-opacity="0.85" stroke="#28833a" stroke-width="0.25"/>
<circle cx="303.7" cy="281.3" r="1" fill="#3d5a7a" fill-opacity="0.85" stroke="#324964" stroke-width="0.25"/>
<circle cx="311.5" cy="281.9" r="2.5" fill="#f7801f" fill-opacity="0.85" stroke="#ca6819" stroke-width="0.45"/>
<circle cx="313.8" cy="286.3" r="2.5" fill="#f7801f" fill-opacity="0.85" stroke="#ca6819" stroke-width="0.45"/>
<circle cx="315.3" cy="280.6" r="1.5" fill="#f7801f" fill-opacity="0.85" stroke="#ca6819" stroke-width="0.25"/>
<circle cx="308.1" cy="284" r="0.8" fill="#3d5a7a" fill-opacity="0.85" stroke="#324964" stroke-width="0.25"/>
<circle cx="326" cy="285" r="3" fill="#f7801f" fill-opacity="0.85" stroke="#ca6819" stroke-width="0.45"/>
<circle cx="319.4" cy="287.5" r="1.2" fill="#f7801f" fill-opacity="0.85" stroke="#ca6819" stroke-width="0.25"/>
<circle cx="300" cy="285" r="2" fill="#f9d35a" fill-opacity="0.85" stroke="#ccad49" stroke-width="0.25"/>
<circle cx="303.8" cy="286.9" r="0.8" fill="#3d5a7a" fill-opacity="0.85" stroke="#324964" stroke-width="0.25"/>
<circle cx="243.1" cy="278.75" r="1" fill="#3d5a7a" fill-opacity="0.85" stroke="#324964" stroke-width="0.25"/>
<circle cx="243.1" cy="283.1" r="1.2" fill="#3fb1d4" fill-opacity="0.85" stroke="#3391ad" stroke-width="0.25"/>
<circle cx="247.5" cy="280.6" r="1" fill="#f7801f" fill-opacity="0.85" stroke="#ca6819" stroke-width="0.25"/>
<circle cx="286.25" cy="281.9" r="1.5" fill="#f9d35a" fill-opacity="0.85" stroke="#ccad49" stroke-width="0.25"/>
<circle cx="278" cy="285" r="1" fill="#f7801f" fill-opacity="0.85" stroke="#ca6819" stroke-width="0.25"/>
<circle cx="260.2" cy="289.8" r="0.8" fill="#3d5a7a" fill-opacity="0.85" stroke="#324964" stroke-width="0.25"/>
<circle cx="225" cy="257" r="0.6" fill="#555" fill-opacity="0.85" stroke="#454545" stroke-width="0.25"/>
<circle cx="232.4" cy="256.6" r="0.6" fill="#777" fill-opacity="0.85" stroke="#616161" stroke-width="0.25"/>
<text x="339.5" y="164" font-size="6.9" fill="#3a3a3a" text-anchor="start" font-weight="bold" >Page Traffic</text>
<rect x="411" y="167" width="212" height="123.5" fill="none" stroke="#e2e2e2" stroke-width="0.6"/>
<line x1="411.2" x2="411.2" y1="167" y2="290.5" stroke="#f7f7f7" stroke-width="0.5"/>
<text x="415" y="298.8" font-size="4.8" fill="#484848" text-anchor="middle" font-weight="normal" >0K</text>
<line x1="447.4" x2="447.4" y1="167" y2="290.5" stroke="#f7f7f7" stroke-width="0.5"/>
<text x="447.4" y="298.8" font-size="4.8" fill="#484848" text-anchor="middle" font-weight="normal" >5K</text>
<line x1="483.6" x2="483.6" y1="167" y2="290.5" stroke="#f7f7f7" stroke-width="0.5"/>
<text x="483.6" y="298.8" font-size="4.8" fill="#484848" text-anchor="middle" font-weight="normal" >10K</text>
<line x1="519.8" x2="519.8" y1="167" y2="290.5" stroke="#f7f7f7" stroke-width="0.5"/>
<text x="519.8" y="298.8" font-size="4.8" fill="#484848" text-anchor="middle" font-weight="normal" >15K</text>
<line x1="556.0" x2="556.0" y1="167" y2="290.5" stroke="#f7f7f7" stroke-width="0.5"/>
<text x="556.0" y="298.8" font-size="4.8" fill="#484848" text-anchor="middle" font-weight="normal" >20K</text>
<line x1="592.2" x2="592.2" y1="167" y2="290.5" stroke="#f7f7f7" stroke-width="0.5"/>
<text x="592.2" y="298.8" font-size="4.8" fill="#484848" text-anchor="middle" font-weight="normal" >25K</text>
<text x="517" y="304.5" font-size="4.7" fill="#484848" text-anchor="middle" font-weight="normal" >Pageviews</text>
<path d="M531.5,301.3 L536.5,301.3 M531.5,302.8 L535.2,302.8 M531.5,304.3 L533.8,304.3 M532,301 L532,305.5" stroke="#333" stroke-width="0.8"/>
<rect x="411.5" y="168.6" width="201.7" height="6.0" fill="#31a047" />
<text x="408.8" y="173.29999999999998" font-size="4.9" fill="#262626" text-anchor="end" font-weight="normal" >/</text>
<rect x="411.5" y="177.59" width="153.3" height="6.0" fill="#3fb1d4" />
<text x="408.8" y="182.29" font-size="4.9" fill="#262626" text-anchor="end" font-weight="normal" >/download</text>
<rect x="411.5" y="186.58" width="82.5" height="6.0" fill="#f7801f" />
<text x="408.8" y="191.27999999999997" font-size="4.9" fill="#262626" text-anchor="end" font-weight="normal" >/gallery/mesa8f39e-86-goals</text>
<rect x="411.5" y="195.57" width="72.5" height="6.0" fill="#f7801f" />
<text x="408.8" y="200.26999999999998" font-size="4.9" fill="#262626" text-anchor="end" font-weight="normal" >/gallery</text>
<rect x="411.5" y="204.56" width="64.0" height="6.0" fill="#31a047" />
<text x="408.8" y="209.26" font-size="4.9" fill="#262626" text-anchor="end" font-weight="normal" >/how-it-works</text>
<rect x="411.5" y="213.55" width="38.5" height="6.0" fill="#f9d35a" />
<text x="408.8" y="218.25" font-size="4.9" fill="#262626" text-anchor="end" font-weight="normal" >/community</text>
<rect x="411.5" y="222.54" width="32.5" height="6.0" fill="#f9d35a" />
<text x="408.8" y="227.23999999999998" font-size="4.9" fill="#262626" text-anchor="end" font-weight="normal" >/community/my-hub</text>
<rect x="411.5" y="231.53" width="29.5" height="6.0" fill="#f7801f" />
<text x="408.8" y="236.23" font-size="4.9" fill="#262626" text-anchor="end" font-weight="normal" >/gallery/30-years-cd</text>
<rect x="411.5" y="240.52" width="27.0" height="6.0" fill="#f7801f" />
<text x="408.8" y="245.21999999999997" font-size="4.9" fill="#262626" text-anchor="end" font-weight="normal" >/gallery/voting-history-us-stat...</text>
<rect x="411.5" y="249.51" width="17.5" height="6.0" fill="#f7801f" />
<text x="408.8" y="254.20999999999998" font-size="4.9" fill="#262626" text-anchor="end" font-weight="normal" >/gallery/state-migration</text>
<rect x="411.5" y="258.5" width="17.5" height="6.0" fill="#31a047" />
<text x="408.8" y="263.2" font-size="4.9" fill="#262626" text-anchor="end" font-weight="normal" >/knowledgebase/sharing-vie...</text>
<rect x="411.5" y="267.49" width="13.8" height="6.0" fill="#3d5a7a" />
<text x="408.8" y="272.19" font-size="4.9" fill="#262626" text-anchor="end" font-weight="normal" >/blog/2012/12/25-best-width-ar...</text>
<rect x="411.5" y="276.48" width="12.5" height="6.0" fill="#31a047" />
<text x="408.8" y="281.18" font-size="4.9" fill="#262626" text-anchor="end" font-weight="normal" >/upgrade</text>
<rect x="411.5" y="285.47" width="12.5" height="6.0" fill="#f7801f" />
<text x="408.8" y="290.17" font-size="4.9" fill="#262626" text-anchor="end" font-weight="normal" >/gallery/cost-college-footbal...</text>
<text x="551" y="219" font-size="5.7" fill="#555" text-anchor="start" font-weight="normal" >Sections</text>
<rect x="551.7" y="220.8" width="6.2" height="6.5" fill="#3d5a7a" />
<text x="560.3" y="225.70000000000002" font-size="4.8" fill="#444" text-anchor="start" font-weight="normal" >Blog</text>
<rect x="551.7" y="229.65" width="6.2" height="6.5" fill="#f9d35a" />
<text x="560.3" y="234.55" font-size="4.8" fill="#444" text-anchor="start" font-weight="normal" >Community</text>
<rect x="551.7" y="238.5" width="6.2" height="6.5" fill="#f7801f" />
<text x="560.3" y="243.4" font-size="4.8" fill="#444" text-anchor="start" font-weight="normal" >Examples</text>
<rect x="551.7" y="247.35" width="6.2" height="6.5" fill="#3fb1d4" />
<text x="560.3" y="252.25000000000003" font-size="4.8" fill="#444" text-anchor="start" font-weight="normal" >Register</text>
<rect x="551.7" y="256.2" width="6.2" height="6.5" fill="#31a047" />
<text x="560.3" y="261.09999999999997" font-size="4.8" fill="#444" text-anchor="start" font-weight="normal" >User-generated</text>
<rect x="157" y="340" width="498" height="8" fill="#0e0f11" />
<rect x="158" y="342" width="50" height="3" fill="#3a3a3a" opacity="0.7"/>
<rect x="208" y="342.8" width="392" height="3" fill="#2c343e" />
<rect x="600" y="342" width="55" height="3" fill="#3a3a3a" opacity="0.7"/>
<linearGradient id="cb" x1="0" y1="0" x2="0" y2="1"><stop offset="0" stop-color="#ececec"/><stop offset="0.08" stop-color="#f3f3f3"/><stop offset="0.6" stop-color="#e2e2e2"/><stop offset="0.66" stop-color="#9c9c9c"/><stop offset="0.8" stop-color="#707070"/><stop offset="1" stop-color="#474747"/></linearGradient>
<rect x="96" y="344" width="60" height="24" fill="#a2a2a2" />
<rect x="655" y="344" width="65" height="24" fill="#b0b0b0" />
<rect x="96" y="344" width="60" height="4" fill="#b8b8b8" />
<rect x="655" y="344" width="58" height="4" fill="#c8c8c8" />
<path d="M97,348 L713,348 L713,359 Q712,367 700,367.5 L122,367.5 L100,360 Z" fill="url(#cb)"/>
<rect x="97" y="349" width="2" height="9" fill="#222" />
<path d="M364,348.3 L449,348.3 Q447,355.5 441,355.5 L372,355.5 Q366,355.5 364,348.3 Z" fill="#e6e6e6" stroke="#bdbdbd" stroke-width="0.5"/>
<rect x="96" y="360" width="24" height="8" fill="#8a8a8a" opacity="0.6"/>
<rect x="120" y="368" width="8" height="8" fill="#747474" />
<rect x="128" y="368" width="8" height="8" fill="#5c5c5c" />
<rect x="136" y="368" width="8" height="8" fill="#5c5c5c" />
<rect x="144" y="368" width="8" height="8" fill="#505050" />
<rect x="152" y="368" width="8" height="8" fill="#5c5c5c" />
<rect x="160" y="368" width="8" height="8" fill="#505050" />
<rect x="168" y="368" width="8" height="8" fill="#646464" />
<rect x="176" y="368" width="8" height="8" fill="#6c6c6c" />
<rect x="184" y="368" width="8" height="8" fill="#505050" />
<rect x="192" y="368" width="8" height="8" fill="#747474" />
<rect x="200" y="368" width="8" height="8" fill="#7a7a7a" />
<rect x="208" y="368" width="8" height="8" fill="#646464" />
<rect x="216" y="368" width="8" height="8" fill="#6c6c6c" />
<rect x="224" y="368" width="8" height="8" fill="#646464" />
<rect x="232" y="368" width="8" height="8" fill="#747474" />
<rect x="240" y="368" width="8" height="8" fill="#747474" />
<rect x="248" y="368" width="8" height="8" fill="#646464" />
<rect x="256" y="368" width="8" height="8" fill="#646464" />
<rect x="264" y="368" width="8" height="8" fill="#6c6c6c" />
<rect x="272" y="368" width="8" height="8" fill="#7a7a7a" />
<rect x="280" y="368" width="8" height="8" fill="#5c5c5c" />
<rect x="288" y="368" width="8" height="8" fill="#646464" />
<rect x="296" y="368" width="8" height="8" fill="#5c5c5c" />
<rect x="304" y="368" width="8" height="8" fill="#646464" />
<rect x="312" y="368" width="8" height="8" fill="#747474" />
<rect x="320" y="368" width="8" height="8" fill="#646464" />
<rect x="328" y="368" width="8" height="8" fill="#646464" />
<rect x="336" y="368" width="8" height="8" fill="#7a7a7a" />
<rect x="344" y="368" width="8" height="8" fill="#646464" />
<rect x="352" y="368" width="8" height="8" fill="#646464" />
<rect x="360" y="368" width="8" height="8" fill="#505050" />
<rect x="368" y="368" width="8" height="8" fill="#7a7a7a" />
<rect x="376" y="368" width="8" height="8" fill="#6c6c6c" />
<rect x="384" y="368" width="8" height="8" fill="#505050" />
<rect x="392" y="368" width="8" height="8" fill="#747474" />
<rect x="400" y="368" width="8" height="8" fill="#5c5c5c" />
<rect x="408" y="368" width="8" height="8" fill="#646464" />
<rect x="416" y="368" width="8" height="8" fill="#505050" />
<rect x="424" y="368" width="8" height="8" fill="#5c5c5c" />
<rect x="432" y="368" width="8" height="8" fill="#505050" />
<rect x="440" y="368" width="8" height="8" fill="#7a7a7a" />
<rect x="448" y="368" width="8" height="8" fill="#6c6c6c" />
<rect x="456" y="368" width="8" height="8" fill="#6c6c6c" />
<rect x="464" y="368" width="8" height="8" fill="#646464" />
<rect x="472" y="368" width="8" height="8" fill="#646464" />
<rect x="480" y="368" width="8" height="8" fill="#646464" />
<rect x="488" y="368" width="8" height="8" fill="#6c6c6c" />
<rect x="496" y="368" width="8" height="8" fill="#747474" />
<rect x="504" y="368" width="8" height="8" fill="#646464" />
<rect x="512" y="368" width="8" height="8" fill="#5c5c5c" />
<rect x="520" y="368" width="8" height="8" fill="#6c6c6c" />
<rect x="528" y="368" width="8" height="8" fill="#6c6c6c" />
<rect x="536" y="368" width="8" height="8" fill="#303030" />
<rect x="544" y="368" width="8" height="8" fill="#404040" />
<rect x="552" y="368" width="8" height="8" fill="#303030" />
<rect x="560" y="368" width="8" height="8" fill="#383838" />
<rect x="568" y="368" width="8" height="8" fill="#404040" />
<rect x="576" y="368" width="8" height="8" fill="#404040" />
<rect x="584" y="368" width="8" height="8" fill="#383838" />
<rect x="592" y="368" width="8" height="8" fill="#2e2e2e" />
<rect x="600" y="368" width="8" height="8" fill="#303030" />
<rect x="608" y="368" width="8" height="8" fill="#2e2e2e" />
<rect x="616" y="368" width="8" height="8" fill="#646464" />
<rect x="624" y="368" width="8" height="8" fill="#6e6e6e" />
<rect x="632" y="368" width="8" height="8" fill="#6e6e6e" />
<rect x="640" y="368" width="8" height="8" fill="#5a5a5a" />
<rect x="648" y="368" width="8" height="8" fill="#646464" />
<rect x="656" y="368" width="8" height="8" fill="#3a3a3a" />
<rect x="664" y="368" width="8" height="8" fill="#3a3a3a" />
<rect x="672" y="368" width="8" height="8" fill="#3a3a3a" />
<rect x="680" y="368" width="8" height="8" fill="#333333" />
<rect x="688" y="368" width="8" height="8" fill="#3a3a3a" />
</svg>
</body></html>
